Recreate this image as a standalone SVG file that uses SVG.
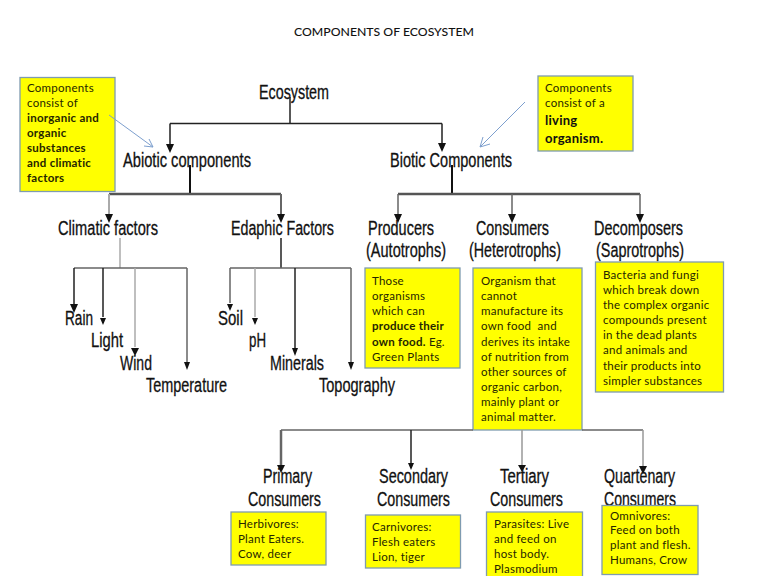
<svg xmlns="http://www.w3.org/2000/svg" width="768" height="576" viewBox="0 0 768 576">
<style>
.bx{fill:#ffff00;stroke:#7f9bb0;stroke-width:1.3}
.n{font-family:"Lato","Open Sans",sans-serif;font-size:11.5px;fill:#262600;letter-spacing:.25px}
.b{font-weight:700}
.big{font-size:13px;font-weight:700;fill:#111}
.l{font-family:"Liberation Sans",Arial,sans-serif;font-size:19.5px;fill:#111;stroke:#111;stroke-width:.3}
.t{font-family:"Lato","Open Sans",sans-serif;font-size:12px;font-weight:500;fill:#111}
.c{fill:none;stroke:#222;stroke-width:1.5}
.g{fill:none;stroke:#aaa;stroke-width:1.5}
.m{fill:none;stroke:#666;stroke-width:1.5}
.h{fill:none;stroke:#555;stroke-width:2.5}
.bl{fill:none;stroke:#7d9fce;stroke-width:1}
</style>
<text class="t" x="294" y="36" textLength="180" lengthAdjust="spacingAndGlyphs">COMPONENTS OF ECOSYSTEM</text>
<g id="ecosystem"><text class="l" x="259" y="99" textLength="70" lengthAdjust="spacingAndGlyphs">Ecosystem</text></g>
<g id="abiotic"><text class="l" x="123" y="167" textLength="128" lengthAdjust="spacingAndGlyphs">Abiotic components</text></g>
<g id="biotic"><text class="l" x="390" y="167" textLength="122" lengthAdjust="spacingAndGlyphs">Biotic Components</text></g>
<g id="climatic"><text class="l" x="58" y="235" textLength="100" lengthAdjust="spacingAndGlyphs">Climatic factors</text></g>
<g id="edaphic"><text class="l" x="231" y="235" textLength="103" lengthAdjust="spacingAndGlyphs">Edaphic Factors</text></g>
<g id="producers"><text class="l" x="368" y="235" textLength="66" lengthAdjust="spacingAndGlyphs">Producers</text><text class="l" x="366" y="257" textLength="80" lengthAdjust="spacingAndGlyphs">(Autotrophs)</text></g>
<g id="consumers"><text class="l" x="476" y="235" textLength="73" lengthAdjust="spacingAndGlyphs">Consumers</text><text class="l" x="469" y="257" textLength="92" lengthAdjust="spacingAndGlyphs">(Heterotrophs)</text></g>
<g id="decomposers"><text class="l" x="594" y="235" textLength="89" lengthAdjust="spacingAndGlyphs">Decomposers</text><text class="l" x="596" y="257" textLength="88" lengthAdjust="spacingAndGlyphs">(Saprotrophs)</text></g>
<g id="rain"><text class="l" x="65" y="325" textLength="28" lengthAdjust="spacingAndGlyphs">Rain</text></g>
<g id="light"><text class="l" x="91" y="347" textLength="32" lengthAdjust="spacingAndGlyphs">Light</text></g>
<g id="wind"><text class="l" x="120" y="370" textLength="32" lengthAdjust="spacingAndGlyphs">Wind</text></g>
<g id="temperature"><text class="l" x="146" y="392" textLength="81" lengthAdjust="spacingAndGlyphs">Temperature</text></g>
<g id="soil"><text class="l" x="218" y="325" textLength="25" lengthAdjust="spacingAndGlyphs">Soil</text></g>
<g id="ph"><text class="l" x="249" y="347" textLength="17" lengthAdjust="spacingAndGlyphs">pH</text></g>
<g id="minerals"><text class="l" x="270" y="370" textLength="54" lengthAdjust="spacingAndGlyphs">Minerals</text></g>
<g id="topography"><text class="l" x="319" y="392" textLength="76" lengthAdjust="spacingAndGlyphs">Topography</text></g>
<g id="primary"><text class="l" x="263" y="483" textLength="49" lengthAdjust="spacingAndGlyphs">Primary</text><text class="l" x="248" y="506" textLength="73" lengthAdjust="spacingAndGlyphs">Consumers</text></g>
<g id="secondary"><text class="l" x="379" y="483" textLength="69" lengthAdjust="spacingAndGlyphs">Secondary</text><text class="l" x="377" y="506" textLength="73" lengthAdjust="spacingAndGlyphs">Consumers</text></g>
<g id="tertiary"><text class="l" x="500" y="483" textLength="49" lengthAdjust="spacingAndGlyphs">Tertiary</text><text class="l" x="490" y="506" textLength="73" lengthAdjust="spacingAndGlyphs">Consumers</text></g>
<g id="quartenary"><text class="l" x="604" y="483" textLength="71" lengthAdjust="spacingAndGlyphs">Quartenary</text><text class="l" x="604" y="506" textLength="72" lengthAdjust="spacingAndGlyphs">Consumers</text></g>
<g id="note-abiotic"><rect class="bx" x="20" y="77.500" width="95" height="114"/>
<text class="n" x="27" y="92">Components</text><text class="n" x="27" y="107">consist of</text><text class="n b" x="27" y="122">inorganic and</text><text class="n b" x="27" y="137">organic</text><text class="n b" x="27" y="152">substances</text><text class="n b" x="27" y="167">and climatic</text><text class="n b" x="27" y="182">factors</text></g>
<g id="note-biotic"><rect class="bx" x="538" y="76" width="95" height="75"/>
<text class="n" x="545" y="92">Components</text><text class="n" x="545" y="107">consist of a</text><text class="n big" x="545" y="125">living</text><text class="n big" x="545" y="143">organism.</text></g>
<g id="note-producers"><rect class="bx" x="365" y="268" width="95" height="100"/>
<text class="n" x="372" y="285">Those</text><text class="n" x="372" y="300">organisms</text><text class="n" x="372" y="315">which can</text><text class="n b" x="372" y="330">produce their</text><text class="n" x="372" y="346"><tspan class="b">own food.</tspan> Eg.</text><text class="n" x="372" y="361">Green Plants</text></g>
<g id="note-consumers"><rect class="bx" x="473" y="268" width="109" height="162"/>
<text class="n" x="481" y="285">Organism that</text><text class="n" x="481" y="300">cannot</text><text class="n" x="481" y="315">manufacture its</text><text class="n" x="481" y="330" xml:space="preserve">own food  and</text><text class="n" x="481" y="346">derives its intake</text><text class="n" x="481" y="361">of nutrition from</text><text class="n" x="481" y="376">other sources of</text><text class="n" x="481" y="391">organic carbon,</text><text class="n" x="481" y="406">mainly plant or</text><text class="n" x="481" y="421">animal matter.</text></g>
<g id="note-decomposers"><rect class="bx" x="595.500" y="262" width="128" height="130"/>
<text class="n" x="603" y="279">Bacteria and fungi</text><text class="n" x="603" y="294">which break down</text><text class="n" x="603" y="309">the complex organic</text><text class="n" x="603" y="324">compounds present</text><text class="n" x="603" y="339">in the dead plants</text><text class="n" x="603" y="354">and animals and</text><text class="n" x="603" y="370">their products into</text><text class="n" x="603" y="385">simpler substances</text></g>
<g id="note-primary"><rect class="bx" x="231" y="512" width="95" height="53"/>
<text class="n" x="238" y="528">Herbivores:</text><text class="n" x="238" y="543">Plant Eaters.</text><text class="n" x="238" y="558">Cow, deer</text></g>
<g id="note-secondary"><rect class="bx" x="365.500" y="515" width="95" height="53"/>
<text class="n" x="372" y="531">Carnivores:</text><text class="n" x="372" y="546">Flesh eaters</text><text class="n" x="372" y="561">Lion, tiger</text></g>
<g id="note-tertiary"><rect class="bx" x="486.500" y="512" width="96" height="70"/>
<text class="n" x="494" y="528">Parasites: Live</text><text class="n" x="494" y="543">and feed on</text><text class="n" x="494" y="558">host body.</text><text class="n" x="494" y="573">Plasmodium</text></g>
<g id="note-omnivores"><rect class="bx" x="602" y="505.500" width="96" height="69"/>
<text class="n" x="610" y="520">Omnivores:</text><text class="n" x="610" y="534">Feed on both</text><text class="n" x="610" y="549">plant and flesh.</text><text class="n" x="610" y="564">Humans, Crow</text></g>
<g id="connectors">
<path class="c" d="M290 97V124M170 123.500H442"/>
<path class="c" d="M170 123.500V145M442 123.500V145"/>
<path class="c" d="M190 165V194" style="stroke:#111;stroke-width:2"/>
<path class="h" d="M109 194H281"/>
<path class="g" d="M109 194V215" style="stroke-width:2"/><path class="m" d="M281 194V215" style="stroke-width:2"/>
<path class="g" d="M120 238V268"/><path class="c" d="M281 238V268"/>
<path class="m" d="M74 268H187M230 268H351"/>
<path class="c" d="M74 268V304M103 268V317"/>
<path class="g" d="M135 268V347M255 268V317"/>
<path class="m" d="M187 268V362M230 268V303M351 268V362"/>
<path class="c" d="M295 268V348"/>
<path class="c" d="M452 165V194" style="stroke:#111;stroke-width:2"/>
<path class="h" d="M398 194H640"/>
<path class="m" d="M398 194V215M512 194V215M640 194V215"/>
<path class="m" d="M281 430H473M582 430H643"/>
<path class="m" d="M281 430V465" style="stroke-width:2.500"/>
<path class="c" d="M411 430V463"/>
<path class="g" d="M522 430V465M643 430V466" style="stroke:#999"/>
<path d="M166 144H174L170 153ZM438 143H446L442 152ZM105 214H113L109 223ZM277 214H285L281 223ZM394 214H402L398 223ZM508 214H516L512 223ZM636 214H644L640 223ZM70 304H78L74 313ZM100 318H106L103 325ZM131 348H139L135 356ZM184 362H190L187 370ZM227 304H233L230 311ZM252 318H258L255 325ZM292 348H298L295 356ZM348 362H354L351 370ZM277 465H285L281 473ZM408 463H414L411 470ZM518 465H526L522 472ZM639 466H647L643 474Z" fill="#111"/>
<path class="bl" d="M109 115L153 147M144 146L153 147L149 139M525 102L480 147M490 144L480 147L483 137"/>
</g>
</svg>
